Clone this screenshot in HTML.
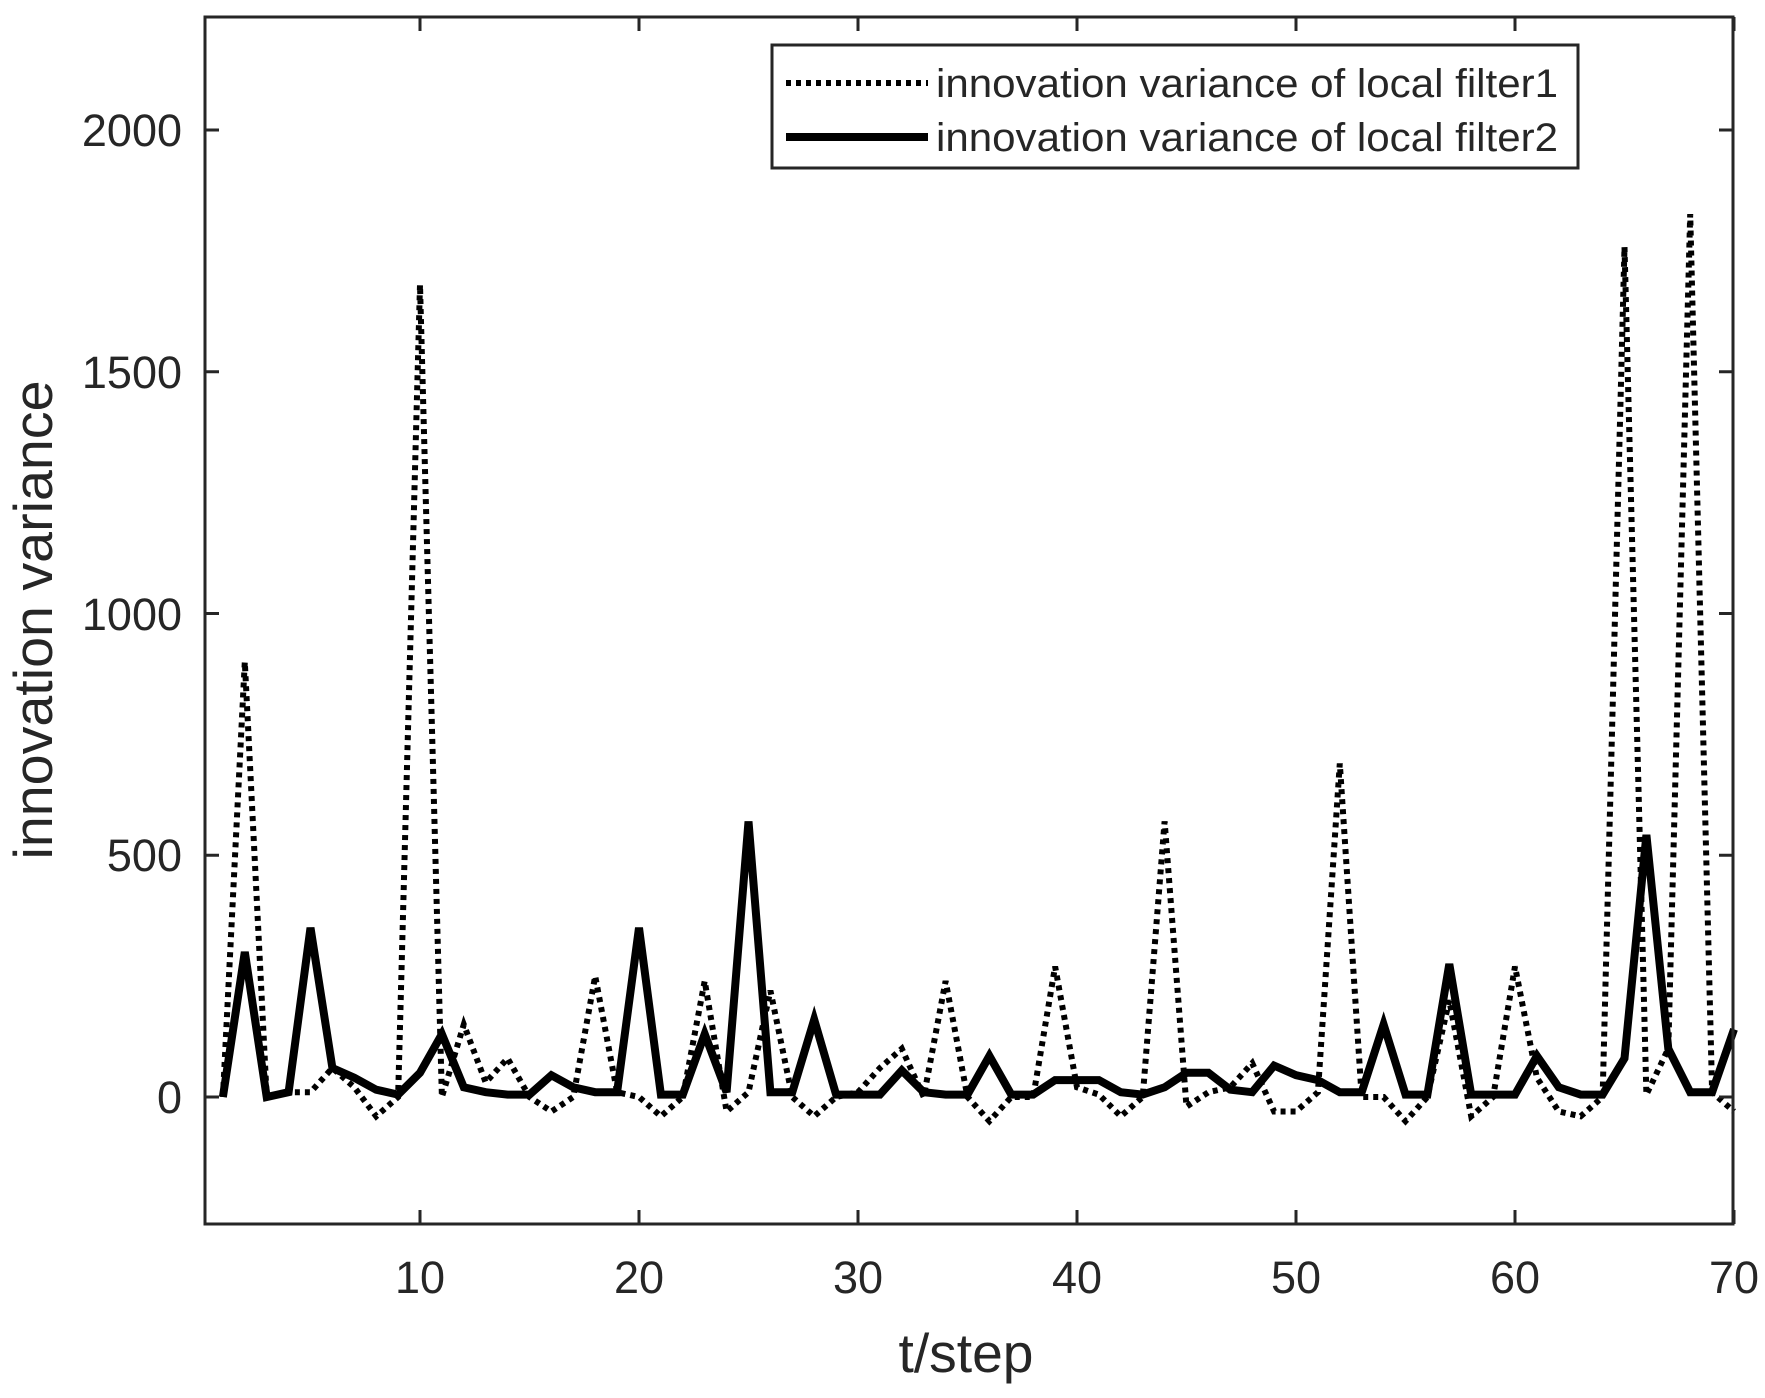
<!DOCTYPE html>
<html><head><meta charset="utf-8"><style>
html,body{margin:0;padding:0;background:#fff;}
svg{display:block;}
text{font-family:"Liberation Sans",sans-serif;fill:#262626;}
</style></head><body>
<svg id="s" width="1765" height="1398" viewBox="0 0 1765 1398" xmlns="http://www.w3.org/2000/svg">
<rect width="1765" height="1398" fill="#fff"/>
<g id="plot"></g>
<rect x="205" y="17" width="1528" height="1207" fill="none" stroke="#262626" stroke-width="3"/>
<g stroke="#262626" stroke-width="3" id="ticks"></g>
<g font-size="45" text-anchor="end">
<text x="182" y="1113">0</text>
<text x="182" y="871">500</text>
<text x="182" y="630">1000</text>
<text x="182" y="388">1500</text>
<text x="182" y="146">2000</text>
</g>
<g font-size="45" text-anchor="middle">
<text x="420" y="1293">10</text>
<text x="639" y="1293">20</text>
<text x="858" y="1293">30</text>
<text x="1077" y="1293">40</text>
<text x="1296" y="1293">50</text>
<text x="1515" y="1293">60</text>
<text x="1734" y="1293">70</text>
</g>
<text x="966" y="1372" font-size="55" text-anchor="middle" textLength="135" lengthAdjust="spacingAndGlyphs">t/step</text>
<text transform="translate(52,620) rotate(-90)" font-size="55" text-anchor="middle" textLength="479" lengthAdjust="spacingAndGlyphs">innovation variance</text>
<rect x="772" y="45" width="806" height="123" fill="#fff" stroke="#262626" stroke-width="3"/>
<line x1="786" y1="83" x2="928" y2="83" stroke="#000" stroke-width="6" stroke-dasharray="5 5"/>
<line x1="786" y1="137" x2="928" y2="137" stroke="#000" stroke-width="8"/>
<text x="936" y="97" font-size="40" textLength="622" lengthAdjust="spacingAndGlyphs">innovation variance of local filter1</text>
<text x="936" y="151" font-size="40" textLength="622" lengthAdjust="spacingAndGlyphs">innovation variance of local filter2</text>
</svg>
<script>
var solid=[0,300,0,10,350,60,40,15,5,50,130,20,10,5,5,45,20,10,10,350,5,5,130,10,570,10,10,160,5,5,5,55,10,5,5,85,5,5,35,35,35,10,5,20,50,50,15,10,65,45,35,10,10,150,5,5,275,5,5,5,85,20,5,5,80,542,100,10,10,140];
var dot=[0,900,0,10,10,60,20,-40,0,1680,0,150,30,80,0,-30,0,250,10,0,-40,0,240,-30,10,220,0,-40,0,10,60,100,0,240,0,-50,0,0,270,20,5,-40,0,570,-20,10,20,70,-30,-30,10,690,0,0,-50,0,200,-40,0,270,40,-30,-40,0,1758,5,100,1826,10,-30];
function px(t){return 420+(t-10)*21.9;}
function py(v){return 1097-v*0.4835;}
function pts(a){return a.map(function(v,i){return px(i+1).toFixed(1)+","+py(v).toFixed(1);}).join(" ");}
var ns="http://www.w3.org/2000/svg",g=document.getElementById("plot");
var p1=document.createElementNS(ns,"polyline");
p1.setAttribute("points",pts(dot));p1.setAttribute("fill","none");p1.setAttribute("stroke","#000");
p1.setAttribute("stroke-width","6");p1.setAttribute("stroke-dasharray","5 5");g.appendChild(p1);
var p2=document.createElementNS(ns,"polyline");
p2.setAttribute("points",pts(solid));p2.setAttribute("fill","none");p2.setAttribute("stroke","#000");
p2.setAttribute("stroke-width","8");p2.setAttribute("stroke-linejoin","miter");g.appendChild(p2);
var tk=document.getElementById("ticks"),d="";
[10,20,30,40,50,60,70].forEach(function(t){var x=px(t);d+="M"+x+" 1224V1210M"+x+" 17V31";});
[0,500,1000,1500,2000].forEach(function(v){var y=py(v);d+="M205 "+y+"H219M1733 "+y+"H1719";});
var pp=document.createElementNS(ns,"path");pp.setAttribute("d",d);tk.appendChild(pp);
</script>
</body></html>
